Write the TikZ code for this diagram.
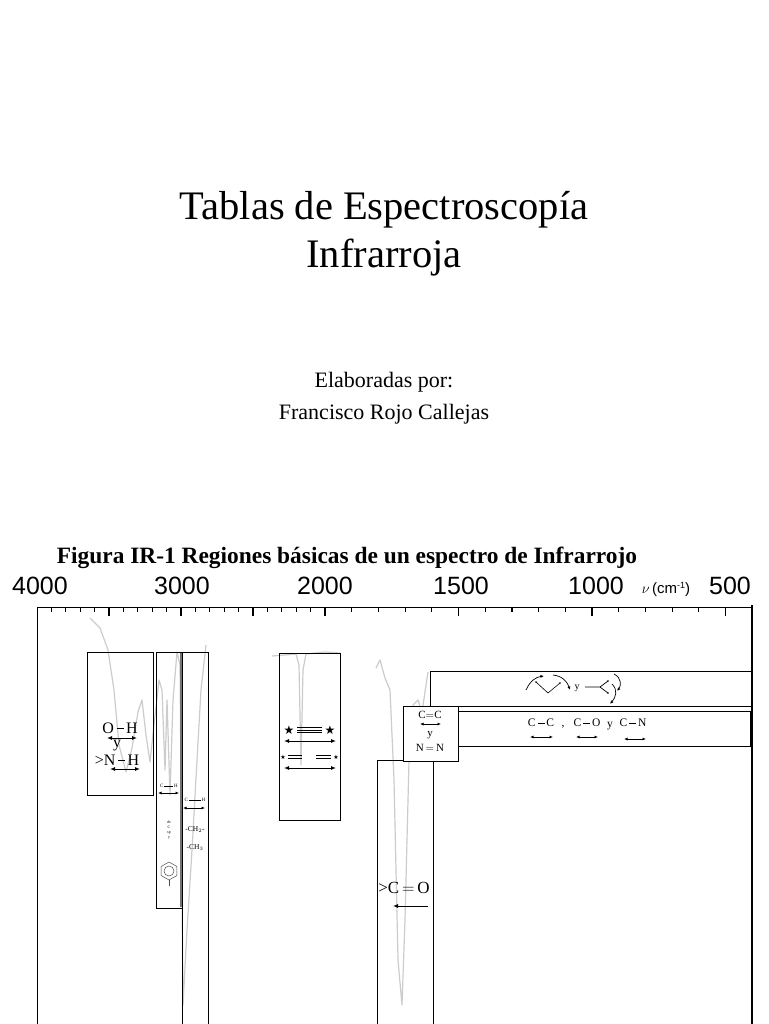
\documentclass[tikz,border=0pt]{standalone}
\usepackage{fontspec}
\setmainfont{Liberation Serif}
\newfontfamily\axf{Liberation Sans}
\newfontfamily\djv{DejaVu Sans}
\usetikzlibrary{arrows.meta}
\begin{document}
\begin{tikzpicture}[x=1pt,y=-1pt,
  box/.style={draw=black,line width=0.9pt},
  dbl/.style={{Latex[length=5pt,width=4pt]}-{Latex[length=5pt,width=4pt]},line width=1pt},
  dbls/.style={{Latex[length=3.5pt,width=3pt]}-{Latex[length=3.5pt,width=3pt]},line width=0.7pt},
  spec/.style={draw=black!20,line width=1.2pt,line join=round},
  lbl/.style={inner sep=0pt}]
\useasboundingbox (0,0) rectangle (768,1024);
\fill[white] (0,0) rectangle (768,1024);
% titles
\node[lbl,font=\fontsize{40.5}{44}\selectfont] (t1) at (384,210) {Tablas de Espectroscopía};
\node[lbl,font=\fontsize{40.5}{44}\selectfont] (t2) at (384,258) {Infrarroja};
\node[lbl,font=\fontsize{22}{25}\selectfont] (e1) at (384,382) {Elaboradas por:};
\node[lbl,font=\fontsize{22}{25}\selectfont] (e2) at (384,414) {Francisco Rojo Callejas};
\node[lbl,font=\fontsize{23.4}{26}\selectfont\bfseries] (cap) at (347,558) {Figura IR-1 Regiones básicas de un espectro de Infrarrojo};
% axis labels
\foreach \x/\t in {40/4000,182/3000,325/2000,461/1500,596/1000,730/500}
  \node[lbl,font=\axf\fontsize{25}{28}\selectfont] at (\x,586) {\t};
\node[lbl,font=\axf\fontsize{15}{17}\selectfont] (nu) at (666,589) {$\nu$\,(cm\raisebox{5pt}{\fontsize{9}{9}\selectfont -1})};
% spectrum
\draw[spec] (90,618) -- (100,628) -- (108,650) -- (114,690) -- (119,745) -- (126,772) -- (132,748) -- (138,712) -- (142,700) -- (146,735) -- (150,762) -- (154,725) -- (159,680) -- (162,690) -- (165,770) -- (167,700) -- (170,795) -- (173,700) -- (177,652) -- (180,665) -- (183,1005) -- (187,930) -- (192,850) -- (197,760) -- (201,690) -- (206,645);
\draw[spec] (272,656) -- (285,655) -- (296,654) -- (299,665) -- (301,765) -- (303,670) -- (306,654) -- (325,652) -- (340,653);
\draw[spec] (376,668) -- (380,660) -- (385,678) -- (390,690) -- (394,780) -- (398,960) -- (402,1005) -- (405,920) -- (409,760) -- (413,705) -- (418,700) -- (422,712) -- (428,672);
% frame
\draw[line width=0.9pt] (37,1024) -- (37,607) -- (752,607);
\draw[line width=1.8pt] (752,605) -- (752,1024);
\foreach \k in {1,...,19}{
  \pgfmathsetmacro\xx{37+14.4*\k}
  \pgfmathtruncatemacro\mj{mod(\k,5)==0}
  \ifnum\mj=1 \draw[line width=1.4pt] (\xx,607) -- (\xx,616); \else \draw[line width=1.2pt] (\xx,607) -- (\xx,612); \fi}
\foreach \k in {0,...,15}{
  \pgfmathsetmacro\xx{325+26.7*\k}
  \pgfmathtruncatemacro\mj{mod(\k,5)==0}
  \ifnum\mj=1 \draw[line width=1.4pt] (\xx,607) -- (\xx,616); \else \draw[line width=1.2pt] (\xx,607) -- (\xx,612); \fi}
% boxes
\draw[box] (87,652) rectangle (153,795);
\draw[box] (156,652) rectangle (182,908);
\draw[box] (182,652) rectangle (208,1024);
\draw[draw=black!55,line width=2pt] (181,653) -- (181,907);
\draw[box] (279,653) rectangle (340,820);
\draw[box] (377,760) rectangle (433,1024);
\draw[box] (430,671) rectangle (752,706);
\draw[box] (458,711) rectangle (750,746);
\draw[box] (430,706) -- (458,706);
\draw[box,fill=white] (403,706) rectangle (458,761);
% OH box
\node[lbl,font=\fontsize{16}{18}\selectfont] (oh) at (120,728) {O\,\rule[4.5pt]{7pt}{0.8pt}\,H};
\draw[dbl] (107,738) -- (137,738);
\node[lbl,font=\fontsize{16}{18}\selectfont] (y1) at (117,746) {y};
\node[lbl,font=\fontsize{16}{18}\selectfont] (nh) at (117,760) {>N\,\rule[4.5pt]{7pt}{0.8pt}\,H};
\draw[dbl] (110,769) -- (140,769);
% CH box1
\node[lbl,font=\fontsize{5}{6}\selectfont] (ch1) at (169,786) {C\,\rule[1.5pt]{9pt}{0.4pt}\,H};
\draw[dbls] (158,793) -- (179,793);
\node[lbl,font=\fontsize{4}{5}\selectfont,align=center] (sp) at (169,830) {de\\C\\sp\\y};
\draw[black!70,line width=0.5pt] (169,862) -- (176.9,866.5) -- (176.9,875.5) -- (169,880) -- (161.1,875.5) -- (161.1,866.5) -- cycle;
\draw[black!70,line width=0.5pt] (169,871) circle (5);
\draw[black!70,line width=0.5pt] (169,880) -- (169,886);
% CH box2
\node[lbl,font=\fontsize{5}{6}\selectfont] (ch2) at (195,800) {C\,\rule[1.5pt]{12pt}{0.4pt}\,H};
\draw[dbls] (183,808) -- (205,808);
\node[lbl,font=\fontsize{7.5}{8}\selectfont] (ch2b) at (195,830) {-CH$_2$-};
\node[lbl,font=\fontsize{7.5}{8}\selectfont] (ch3) at (195,848) {-CH$_3$};
% triple
\node[lbl,font=\djv\fontsize{12}{12}\selectfont] (s1) at (289,730) {★};
\node[lbl,font=\djv\fontsize{12}{12}\selectfont] (s2) at (330,730) {★};
\foreach \d in {-2.5,0,2.5} \draw[line width=0.7pt] (297,730+\d) -- (322,730+\d);
\draw[dbl] (284,741) -- (336,741);
\node[lbl,font=\djv\fontsize{6}{6}\selectfont] (s3) at (283,757) {★};
\node[lbl,font=\djv\fontsize{6}{6}\selectfont] (s4) at (336,757) {★};
\foreach \d in {-1.5,1.5} {\draw[line width=0.7pt] (288,757+\d) -- (302,757+\d); \draw[line width=0.7pt] (316,757+\d) -- (331,757+\d);}
\draw[dbl] (284,768) -- (336,768);
% C=O
\node[lbl,font=\fontsize{17}{19}\selectfont] (co) at (404,888) {>C\,$=$\,O};
\draw[-{Latex[length=5pt,width=4pt]},line width=1pt] (428,906) -- (393,906);
% C=C
\node[lbl,font=\fontsize{11}{12}\selectfont] (cc) at (430,715) {C$=$C};
\draw[dbls] (420,724) -- (441,724);
\node[lbl,font=\fontsize{11}{12}\selectfont] (yy) at (430,735) {y};
\node[lbl,font=\fontsize{11}{12}\selectfont] (nn) at (430,748) {N\,$=$\,N};
% bending
\draw[line width=0.6pt] (536,682) -- (548,693) -- (560,683);
\fill (536,682) circle (0.9) (560,683) circle (0.9);
\draw[-{Latex[length=3.5pt,width=3pt]},line width=0.7pt] (526,690) .. controls (530,681) and (536,677) .. (544,676);
\draw[-{Latex[length=3.5pt,width=3pt]},line width=0.7pt] (553,675) .. controls (562,676) and (567,681) .. (570,690);
\node[lbl,font=\fontsize{10}{11}\selectfont] (yb) at (577,688) {y};
\draw[line width=0.7pt] (585,687) -- (600,687) -- (608,681);
\draw[line width=0.7pt] (600,687) -- (608,693);
\fill (608,681) circle (0.9) (608,693) circle (0.9);
\draw[-{Latex[length=3.5pt,width=3pt]},line width=0.7pt] (614,674) .. controls (622,678) and (621,686) .. (617,691);
\draw[-{Latex[length=3.5pt,width=3pt]},line width=0.7pt] (612,684) .. controls (618,690) and (616,697) .. (610,704);
% C-C etc
\node[lbl,font=\fontsize{11.5}{12}\selectfont] (c1) at (541,723) {C\,\rule[3.2pt]{7pt}{0.6pt}\,C};
\draw[dbls] (530,737) -- (553,737);
\node[lbl,font=\fontsize{11.5}{12}\selectfont] (cm) at (563,727) {,};
\node[lbl,font=\fontsize{11.5}{12}\selectfont] (c2) at (587,723) {C\,\rule[3.2pt]{7pt}{0.6pt}\,O};
\draw[dbls] (576,737) -- (598,737);
\node[lbl,font=\fontsize{11.5}{12}\selectfont] (yc) at (610,726) {y};
\node[lbl,font=\fontsize{11.5}{12}\selectfont] (c3) at (633,723) {C\,\rule[3.2pt]{7pt}{0.6pt}\,N};
\draw[dbls] (624,739) -- (646,739);
\end{tikzpicture}
\end{document}
